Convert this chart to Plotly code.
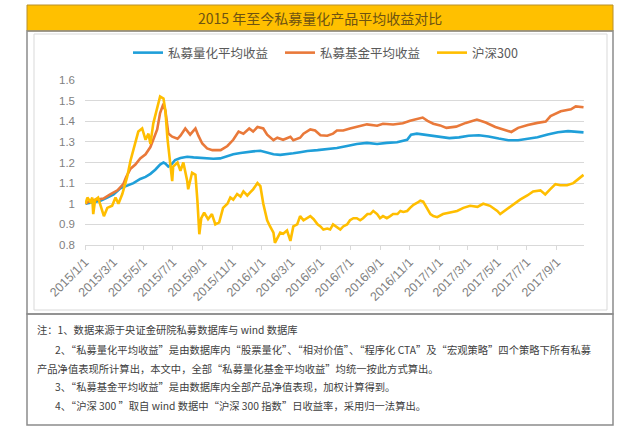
import plotly.graph_objects as go

# ---------------- data ----------------
tick_dates = ["2015-01-01", "2015-03-01", "2015-05-01", "2015-07-01", "2015-09-01", "2015-11-01",
              "2016-01-01", "2016-03-01", "2016-05-01", "2016-07-01", "2016-09-01", "2016-11-01",
              "2017-01-01", "2017-03-01", "2017-05-01", "2017-07-01", "2017-09-01"]
tick_labels = ["2015/1/1", "2015/3/1", "2015/5/1", "2015/7/1", "2015/9/1", "2015/11/1",
               "2016/1/1", "2016/3/1", "2016/5/1", "2016/7/1", "2016/9/1", "2016/11/1",
               "2017/1/1", "2017/3/1", "2017/5/1", "2017/7/1", "2017/9/1"]
y_ticks = [0.8, 0.9, 1.0, 1.1, 1.2, 1.3, 1.4, 1.5, 1.6]
y_tick_labels = ["0.8", "0.9", "1", "1.1", "1.2", "1.3", "1.4", "1.5", "1.6"]

series_names = ["私募量化平均收益", "私募基金平均收益", "沪深300"]

quant_dates = ["2015-01-02", "2015-01-16", "2015-02-02", "2015-02-16", "2015-03-01", "2015-03-15",
               "2015-03-29", "2015-04-11", "2015-04-25", "2015-05-06", "2015-05-16", "2015-05-26",
               "2015-06-05", "2015-06-12", "2015-06-16", "2015-06-22", "2015-06-29", "2015-07-06",
               "2015-07-17", "2015-07-31", "2015-08-13", "2015-08-27", "2015-09-10", "2015-09-23",
               "2015-10-07", "2015-10-22", "2015-11-03", "2015-11-18", "2015-12-02", "2015-12-14",
               "2015-12-29", "2016-01-12", "2016-01-25", "2016-02-08", "2016-02-22", "2016-03-06",
               "2016-03-20", "2016-04-04", "2016-04-25", "2016-05-15", "2016-06-04", "2016-06-25",
               "2016-07-15", "2016-08-05", "2016-08-26", "2016-09-15", "2016-10-06", "2016-10-27",
               "2016-11-04", "2016-11-16", "2016-12-06", "2016-12-28", "2017-01-22", "2017-02-11",
               "2017-03-03", "2017-03-24", "2017-04-13", "2017-05-04", "2017-05-24", "2017-06-13",
               "2017-07-03", "2017-07-23", "2017-08-13", "2017-09-03", "2017-09-24", "2017-10-08",
               "2017-10-26"]
quant_vals = [1.000, 1.008, 1.015, 1.030, 1.045, 1.075,
              1.088, 1.100, 1.120, 1.130, 1.145, 1.165,
              1.190, 1.200, 1.195, 1.180, 1.192, 1.212,
              1.222, 1.228, 1.225, 1.222, 1.222, 1.218,
              1.220, 1.232, 1.240, 1.246, 1.252, 1.254,
              1.257, 1.250, 1.240, 1.237, 1.240, 1.245,
              1.250, 1.256, 1.260, 1.265, 1.270, 1.280,
              1.290, 1.295, 1.290, 1.295, 1.298, 1.310,
              1.335, 1.340, 1.333, 1.325, 1.318, 1.322,
              1.330, 1.332, 1.326, 1.316, 1.308, 1.308,
              1.315, 1.322, 1.336, 1.347, 1.352, 1.350,
              1.346]

fund_dates = ["2015-01-02", "2015-01-12", "2015-01-26", "2015-02-08", "2015-02-22", "2015-03-09",
              "2015-03-21", "2015-03-27", "2015-04-05", "2015-04-15", "2015-04-25", "2015-05-06",
              "2015-05-16", "2015-05-22", "2015-05-30", "2015-06-05", "2015-06-12", "2015-06-16",
              "2015-06-22", "2015-06-30", "2015-07-11", "2015-07-17", "2015-07-27", "2015-08-06",
              "2015-08-17", "2015-08-23", "2015-08-31", "2015-09-10", "2015-09-21", "2015-10-08",
              "2015-10-22", "2015-11-03", "2015-11-14", "2015-11-24", "2015-12-06", "2015-12-14",
              "2015-12-23", "2016-01-04", "2016-01-12", "2016-01-25", "2016-02-02", "2016-02-14",
              "2016-02-29", "2016-03-06", "2016-03-20", "2016-03-27", "2016-04-10", "2016-04-20",
              "2016-05-01", "2016-05-15", "2016-05-27", "2016-06-04", "2016-06-17", "2016-07-01",
              "2016-07-15", "2016-08-05", "2016-08-26", "2016-09-07", "2016-09-28", "2016-10-18",
              "2016-11-02", "2016-11-16", "2016-11-28", "2016-12-08", "2016-12-20", "2017-01-03",
              "2017-01-16", "2017-02-05", "2017-02-25", "2017-03-20", "2017-04-07", "2017-04-27",
              "2017-05-18", "2017-05-30", "2017-06-13", "2017-07-03", "2017-07-23", "2017-08-09",
              "2017-08-19", "2017-09-09", "2017-09-30", "2017-10-10", "2017-10-26"]
fund_vals = [1.000, 1.015, 1.020, 1.025, 1.045, 1.065,
             1.095, 1.130, 1.170, 1.190, 1.220, 1.240,
             1.275, 1.310, 1.360, 1.440, 1.485, 1.450,
             1.340, 1.325, 1.315, 1.330, 1.365, 1.335,
             1.365, 1.330, 1.292, 1.268, 1.260, 1.260,
             1.280, 1.310, 1.350, 1.340, 1.365, 1.350,
             1.372, 1.365, 1.335, 1.308, 1.320, 1.310,
             1.325, 1.308, 1.320, 1.340, 1.360, 1.355,
             1.332, 1.330, 1.340, 1.355, 1.355, 1.365,
             1.372, 1.385, 1.378, 1.388, 1.384, 1.390,
             1.402, 1.412, 1.418, 1.402, 1.388, 1.380,
             1.368, 1.374, 1.392, 1.408, 1.394, 1.372,
             1.357, 1.348, 1.368, 1.382, 1.392, 1.398,
             1.425, 1.448, 1.458, 1.472, 1.468]

hs300_dates = ["2015-01-02", "2015-01-06", "2015-01-12", "2015-01-16", "2015-01-18", "2015-01-22",
               "2015-01-28", "2015-02-05", "2015-02-09", "2015-02-16", "2015-02-26", "2015-03-05",
               "2015-03-11", "2015-03-19", "2015-03-29", "2015-04-05", "2015-04-15", "2015-04-21",
               "2015-04-29", "2015-05-06", "2015-05-12", "2015-05-16", "2015-05-22", "2015-05-30",
               "2015-06-05", "2015-06-12", "2015-06-16", "2015-06-20", "2015-06-24", "2015-06-30",
               "2015-07-02", "2015-07-11", "2015-07-17", "2015-07-23", "2015-07-31", "2015-08-02",
               "2015-08-10", "2015-08-17", "2015-08-21", "2015-08-25", "2015-08-29", "2015-09-04",
               "2015-09-12", "2015-09-20", "2015-09-27", "2015-10-05", "2015-10-13", "2015-10-22",
               "2015-10-28", "2015-11-03", "2015-11-11", "2015-11-18", "2015-11-24", "2015-12-02",
               "2015-12-08", "2015-12-14", "2015-12-23", "2015-12-29", "2016-01-04", "2016-01-12",
               "2016-01-18", "2016-01-25", "2016-01-28", "2016-02-08", "2016-02-14", "2016-02-22",
               "2016-02-29", "2016-03-06", "2016-03-14", "2016-03-20", "2016-03-27", "2016-04-04",
               "2016-04-10", "2016-04-17", "2016-04-25", "2016-05-01", "2016-05-07", "2016-05-15",
               "2016-05-21", "2016-05-27", "2016-06-04", "2016-06-11", "2016-06-17", "2016-06-25",
               "2016-07-01", "2016-07-08", "2016-07-15", "2016-07-22", "2016-07-28", "2016-08-06",
               "2016-08-12", "2016-08-18", "2016-08-26", "2016-09-01", "2016-09-07", "2016-09-15",
               "2016-09-22", "2016-09-28", "2016-10-07", "2016-10-13", "2016-10-19", "2016-10-27",
               "2016-11-02", "2016-11-09", "2016-11-17", "2016-11-23", "2016-11-29", "2016-12-07",
               "2016-12-14", "2016-12-20", "2016-12-28", "2017-01-09", "2017-01-24", "2017-02-07",
               "2017-02-20", "2017-03-06", "2017-03-21", "2017-04-02", "2017-04-16", "2017-05-01",
               "2017-05-07", "2017-05-22", "2017-06-03", "2017-06-17", "2017-07-02", "2017-07-14",
               "2017-07-29", "2017-08-08", "2017-08-18", "2017-08-29", "2017-09-08", "2017-09-22",
               "2017-10-05", "2017-10-13", "2017-10-19", "2017-10-26"]
hs300_vals = [1.000, 1.030, 1.010, 1.030, 0.950, 1.020,
              1.030, 0.966, 0.940, 0.980, 0.990, 1.030,
              1.000, 1.047, 1.130, 1.210, 1.290, 1.350,
              1.365, 1.310, 1.340, 1.290, 1.390, 1.470,
              1.520, 1.510, 1.450, 1.320, 1.225, 1.110,
              1.180, 1.200, 1.160, 1.200, 1.110, 1.070,
              1.150, 1.140, 1.015, 0.852, 0.930, 0.957,
              0.925, 0.950, 0.900, 0.910, 0.980, 1.000,
              1.030, 1.020, 1.047, 1.035, 1.060, 1.040,
              1.055, 1.070, 1.100, 1.085, 1.000, 0.920,
              0.890, 0.860, 0.810, 0.860, 0.855, 0.870,
              0.820, 0.890, 0.900, 0.940, 0.920, 0.930,
              0.940, 0.925, 0.900, 0.890, 0.875, 0.880,
              0.875, 0.900, 0.885, 0.875, 0.890, 0.900,
              0.920, 0.930, 0.930, 0.920, 0.930, 0.950,
              0.950, 0.965, 0.950, 0.930, 0.940, 0.930,
              0.940, 0.950, 0.950, 0.965, 0.960, 0.965,
              0.980, 0.995, 1.005, 1.015, 1.010, 0.980,
              0.950, 0.940, 0.935, 0.950, 0.957, 0.965,
              0.980, 0.990, 0.985, 1.000, 0.990, 0.965,
              0.950, 0.975, 0.995, 1.020, 1.040, 1.060,
              1.065, 1.045, 1.070, 1.095, 1.090, 1.090,
              1.100, 1.115, 1.125, 1.140]

colors = ["#1F9FD9", "#E9793A", "#FFBE00"]

title_text = "2015 年至今私募量化产品平均收益对比"
notes = [
    "注：1、数据来源于央证金研院私募数据库与 wind 数据库",
    "2、“私募量化平均收益”是由数据库内“股票量化”、“相对价值”、“程序化 CTA”及“宏观策略”四个策略下所有私募",
    "产品净值表现所计算出，本文中，全部“私募量化基金平均收益”均统一按此方式算出。",
    "3、“私募基金平均收益”是由数据库内全部产品净值表现，加权计算得到。",
    "4、“沪深 300 ”取自 wind 数据中“沪深 300 指数”日收益率，采用归一法算出。",
]

# ---------------- layout helpers (pixel -> paper) ----------------
L, R, T, B = 85, 584, 80, 245
W, H = R - L, B - T


def px(x):
    return (x - L) / W


def py(y):
    return (B - y) / H


CJK = "Noto Sans CJK SC, Noto Sans, sans-serif"

fig = go.Figure()
for name, xs, ys, c in zip(series_names, [quant_dates, fund_dates, hs300_dates],
                           [quant_vals, fund_vals, hs300_vals], colors):
    fig.add_trace(go.Scatter(x=xs, y=ys, mode="lines", name=name,
                             line=dict(color=c, width=2.6)))

shapes = [
    dict(type="rect", xref="paper", yref="paper", x0=px(27), x1=px(613), y0=py(31), y1=py(5),
         fillcolor="#FFC000", line=dict(color="#B8902A", width=1), layer="below"),
    dict(type="rect", xref="paper", yref="paper", x0=px(27), x1=px(613), y0=py(314), y1=py(31),
         line=dict(color="#8C8C8C", width=1.5), layer="below"),
    dict(type="rect", xref="paper", yref="paper", x0=px(34), x1=px(607), y0=py(310), y1=py(34),
         line=dict(color="#D9D9D9", width=1), layer="below"),
    dict(type="rect", xref="paper", yref="paper", x0=px(27), x1=px(613), y0=py(425), y1=py(314),
         line=dict(color="#8C8C8C", width=1.5), layer="below"),
]

annotations = [
    dict(text=title_text, xref="paper", yref="paper", x=px(320), y=py(18), xanchor="center",
         yanchor="middle", showarrow=False, font=dict(family=CJK, size=14, color="#6E5312")),
]
note_x = [35, 53, 35, 53, 53]
note_y = [329, 349, 368, 386, 405]
for t, nx, ny in zip(notes, note_x, note_y):
    annotations.append(dict(text=t, xref="paper", yref="paper", x=px(nx), y=py(ny),
                            xanchor="left", yanchor="middle", showarrow=False,
                            font=dict(family=CJK, size=10.3, color="#404040")))

fig.update_layout(
    width=640, height=440,
    margin=dict(l=L, r=640 - R, t=T, b=440 - B, pad=0),
    paper_bgcolor="white", plot_bgcolor="white",
    shapes=shapes, annotations=annotations,
    showlegend=True,
    legend=dict(orientation="h", x=px(128), xanchor="left", y=py(53), yanchor="middle",
                font=dict(family=CJK, size=12.5, color="#595959"),
                entrywidth=107, bgcolor="rgba(0,0,0,0)"),
    xaxis=dict(type="date", range=["2015-01-01", "2017-10-27"],
               tickmode="array", tickvals=tick_dates, ticktext=tick_labels,
               tickangle=-45, ticks="outside", ticklen=4, tickcolor="#D9D9D9",
               showline=True, linecolor="#D9D9D9", linewidth=1, showgrid=False,
               tickfont=dict(family="Liberation Sans, Arial, sans-serif", size=12.5, color="#7F7F7F")),
    yaxis=dict(range=[0.8, 1.6], tickmode="array", tickvals=y_ticks, ticktext=y_tick_labels,
               showgrid=True, gridcolor="#D9D9D9", gridwidth=1, zeroline=False, showline=False,
               ticklabelstandoff=9,
               tickfont=dict(family="Liberation Sans, Arial, sans-serif", size=11.5, color="#7F7F7F")),
)

fig.write_html("out.html")
